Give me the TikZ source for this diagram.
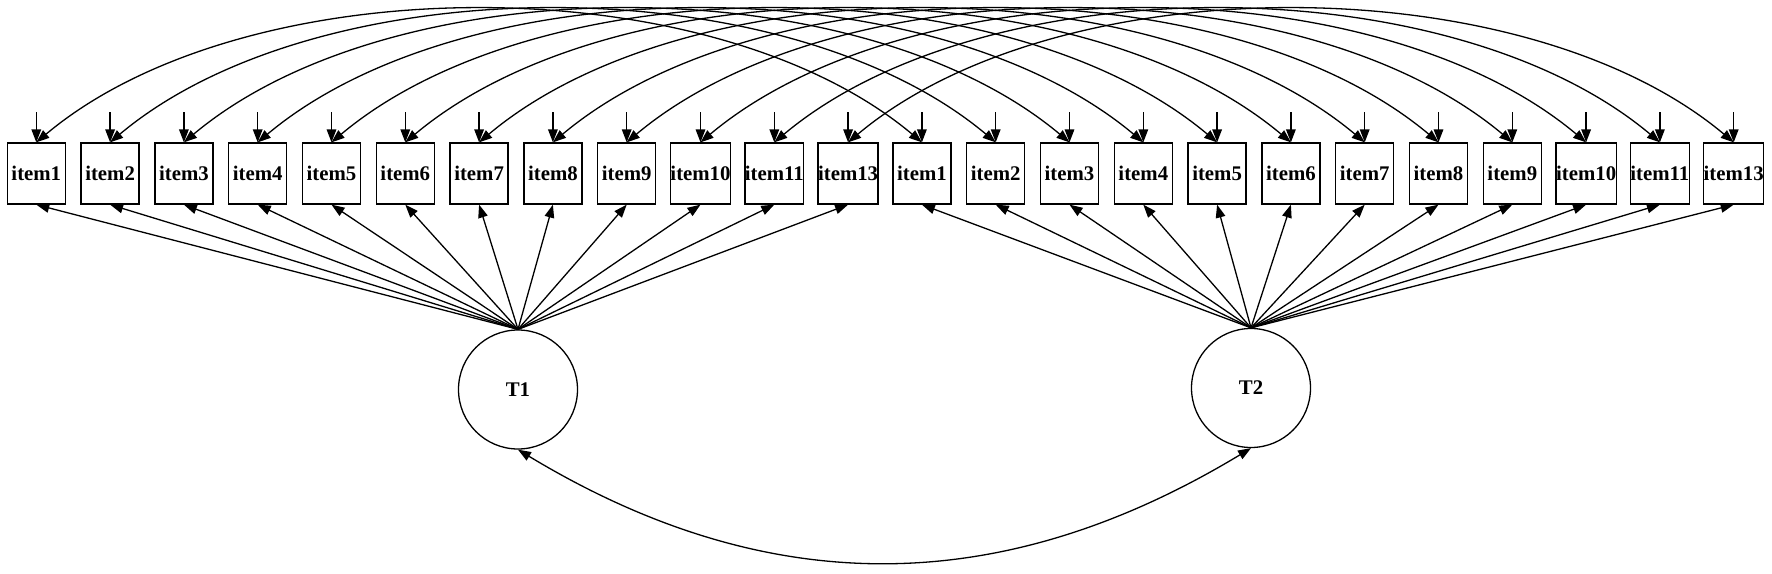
\documentclass[tikz,border=0pt]{standalone}
\usepackage{fontspec}
\setmainfont{Liberation Serif}
\usetikzlibrary{arrows.meta}
\begin{document}
\begin{tikzpicture}[x=0.5pt,y=-0.5pt,
  line width=0.65pt,
  arr/.style={-{Triangle[length=6.5pt,width=4.8pt]}},
  arrtwo/.style={{Triangle[length=6.5pt,width=4.8pt]}-{Triangle[length=6.5pt,width=4.8pt]}},
  itembox/.style={draw,rectangle,minimum width=29pt,minimum height=30.5pt,inner sep=0pt,
    font=\fontsize{10.4}{12}\selectfont\bfseries},
  latent/.style={draw,circle,minimum size=59.5pt,inner sep=0pt,
    font=\fontsize{10.4}{12}\selectfont\bfseries}]
\useasboundingbox (0,0) rectangle (1772,573);
\node[latent] (T1) at (518,389.5) {T1};
\node[latent] (T2) at (1251,388) {T2};
\foreach \lab [count=\k from 0] in {1,2,3,4,5,6,7,8,9,10,11,13} {
  \node[itembox] (a\lab) at ({36.3+73.8*\k},173.5) {item\lab};
  \node[itembox] (b\lab) at ({36.3+73.8*(\k+12)},173.5) {item\lab};
  \path (a\lab.north) ++(0,-30) coordinate (ea\lab);
  \path (b\lab.north) ++(0,-30) coordinate (eb\lab);
  \draw[arr] (ea\lab) -- (a\lab.north);
  \draw[arr] (eb\lab) -- (b\lab.north);
  \draw[arr] (T1.north) -- (a\lab.south);
  \draw[arr] (T2.north) -- (b\lab.south);
  \draw[arrtwo] (a\lab.north) .. controls +(211,-177) and +(-211,-177) .. (b\lab.north);
}
\draw[arrtwo] (T1.south) .. controls +(250,151) and +(-250,151) .. (T2.south);
\end{tikzpicture}
\end{document}
